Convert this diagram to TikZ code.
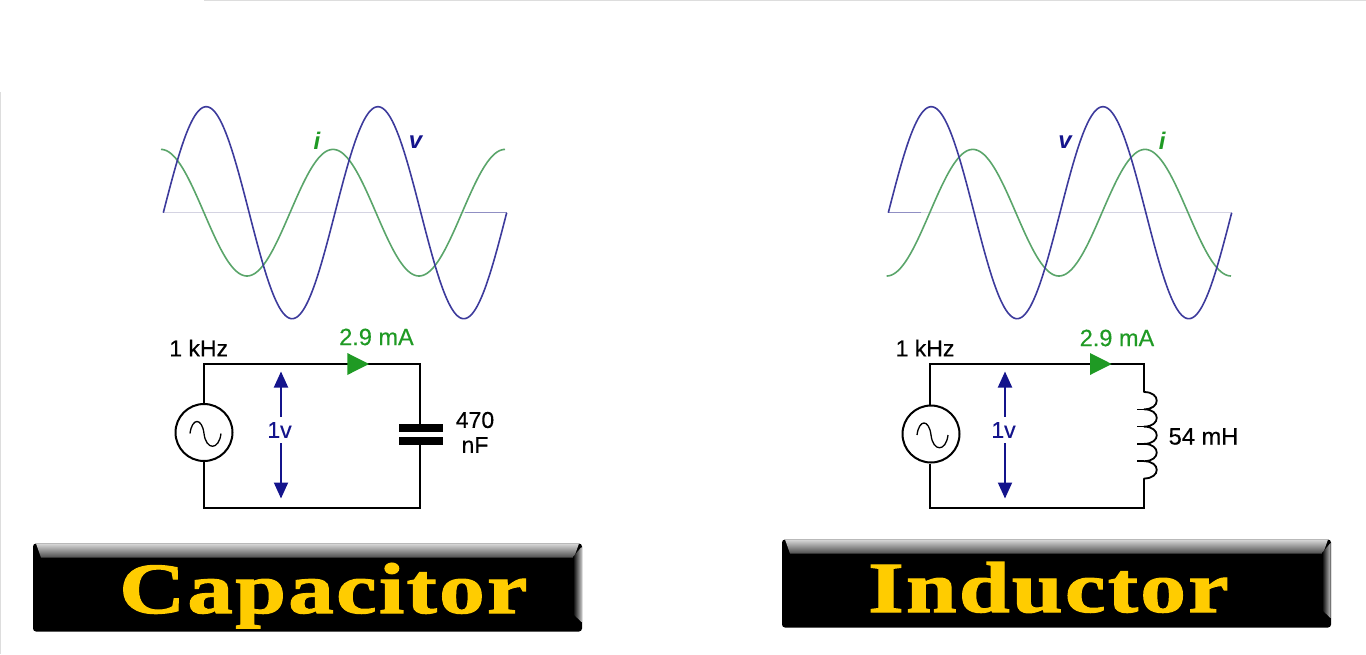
\documentclass[tikz,border=0pt]{standalone}
\usepackage{fontspec}
\setmainfont[UprightFeatures={FakeBold=0.4}]{Liberation Sans}
\newfontfamily\titlefont[LetterSpace=3,FakeStretch=1.27,FakeBold=1.6]{Liberation Serif}
\usetikzlibrary{arrows.meta}
\definecolor{vwave}{HTML}{3D3B9C}
\definecolor{iwave}{HTML}{5AA56A}
\definecolor{axisc}{HTML}{D4D3E2}
\definecolor{vblue}{HTML}{14148C}
\definecolor{igreen}{HTML}{1F9A24}
\definecolor{gold}{HTML}{FFCC00}
\definecolor{edgeg}{HTML}{DDDDDD}
\tikzset{
  vcurve/.style={vwave,line width=1.6pt,smooth,samples=220,variable=\t},
  icurve/.style={iwave,line width=1.6pt,smooth,samples=220,variable=\t},
  axisline/.style={axisc,line width=1.4pt},
  wire/.style={black,line width=2pt,line join=miter},
  sourcec/.style={circle,draw=black,line width=2pt,minimum size=57pt,inner sep=0pt,fill=white},
  sineg/.style={black,line width=1.3pt},
  lab/.style={inner sep=0pt,font=\fontsize{23}{23}\selectfont,text=black},
  greenlab/.style={lab,font=\fontsize{23.5}{23.5}\selectfont,text=igreen},
  bluelab/.style={inner sep=0pt,minimum height=26pt,minimum width=10pt,font=\fontsize{23}{23}\selectfont,text=vblue},
  wavelab/.style={inner sep=0pt,font=\fontsize{24}{24}\selectfont\bfseries\itshape},
  volt/.style={vblue,line width=2pt,-{Triangle[length=16pt,width=14pt]}},
  plate/.style={fill=black,draw=none,minimum width=44pt,minimum height=8pt,inner sep=0pt},
  blackbox/.style={fill=black,draw=none,rounded corners=3pt,minimum width=549pt,minimum height=88pt,inner sep=0pt},
  titletext/.style={anchor=base west,inner sep=0pt,text=gold,font=\fontsize{72}{72}\titlefont\bfseries},
  edgeline/.style={edgeg,line width=1.5pt}
}
\begin{document}
\begin{tikzpicture}[x=1pt,y=-1pt]
\useasboundingbox (0,0) rectangle (1366,654);
% thin edges of the frame
\draw[edgeline] (204,0.5) -- (1366,0.5);
\draw[edgeline] (0.5,92) -- (0.5,654);

% ---- capacitor waves
\draw[axisline] (163,212.7) -- (507,212.7);
\draw[vwave!45!axisc,line width=1.4pt] (465,212.7) -- (507,212.7);
\draw[icurve] plot[domain=161:505] (\t,{212.7-63.3*cos((\t-161)/172*360)});
\draw[vcurve] plot[domain=163.3:506.7] (\t,{212.7-106*sin((\t-163.3)/171.7*360)});
\node[wavelab,text=igreen] (iL) at (317,141) {i};
\node[wavelab,text=vblue] (vwL) at (415.5,142) {v};

% ---- inductor waves
\draw[axisline] (888,212.7) -- (1232,212.7);
\draw[vwave!45!axisc,line width=1.4pt] (888,212.7) -- (921,212.7);
\draw[icurve] plot[domain=886.7:1231] (\t,{212.7+63.3*cos((\t-886.7)/172.2*360)});
\draw[vcurve] plot[domain=888.3:1231.7] (\t,{212.7-106*sin((\t-888.3)/171.7*360)});
\node[wavelab,text=vblue] (vwR) at (1065,142) {v};
\node[wavelab,text=igreen] (iR) at (1162.3,141) {i};

% ---- capacitor circuit
\node[sourcec] (srcL) at (204,432.5) {};
\coordinate (tlL) at (204,364);
\coordinate (trL) at (420,364);
\coordinate (brL) at (420,508);
\coordinate (blL) at (204,508);
\node[plate] (plateA) at (421,428.3) {};
\node[plate] (plateB) at (421,441) {};
\draw[wire] (srcL.north) -- (tlL) -- (trL) -- (plateA.north -| trL);
\draw[wire] (plateB.south -| brL) -- (brL) -- (blL) -- (srcL.south);
\draw[sineg] ([shift={(-14,1)}]srcL.center) .. controls +(2,-16) and +(-2,-16) .. ++(14,0)
  .. controls +(2,17) and +(-2,17) .. ++(17,0);
\fill[igreen] (347.3,353) -- (369,364) -- (347.3,375) -- cycle;
\node[greenlab] (curL) at (376.5,337) {2.9 mA};
\node[lab] (frqL) at (198.7,348) {1 kHz};
\node[bluelab] (oneL) at (281,430) {\kern-3pt 1v};
\coordinate (vtL) at (281,371.5);
\coordinate (vbL) at (281,498.5);
\draw[volt] (oneL.north) -- (vtL);
\draw[volt] (oneL.south) -- (vbL);
\node[lab] (capA) at (475,420) {470};
\node[lab] (capB) at (475,445) {nF};

% ---- inductor circuit
\node[sourcec] (srcR) at (931,434) {};
\coordinate (tlR) at (929.5,364);
\coordinate (trR) at (1144,364);
\coordinate (brR) at (1144,508);
\coordinate (blR) at (929.5,508);
\coordinate (indT) at (1144,392);
\coordinate (indB) at (1144,478.5);
\draw[wire] (srcR.north -| tlR) -- (tlR) -- (trR) -- (indT);
\draw[wire] (indB) -- (brR) -- (blR) -- (srcR.south -| blR);
\draw[black,line width=1.8pt,line cap=round]
  (indT) .. controls +(17,0) and +(17,0) .. ++(0,17.3) coordinate (j1)
  .. controls +(17,0) and +(17,0) .. ++(0,17.3) coordinate (j2)
  .. controls +(17,0) and +(17,0) .. ++(0,17.3) coordinate (j3)
  .. controls +(17,0) and +(17,0) .. ++(0,17.3) coordinate (j4)
  .. controls +(17,0) and +(17,0) .. (indB);
\foreach \j in {j1,j2,j3,j4}{\draw[black,line width=1.6pt] (\j) -- ++(-7,0);}
\draw[sineg] ([shift={(-14,1)}]srcR.center) .. controls +(2,-16) and +(-2,-16) .. ++(14,0)
  .. controls +(2,17) and +(-2,17) .. ++(17,0);
\fill[igreen] (1090,353) -- (1111.7,364) -- (1090,375) -- cycle;
\node[greenlab] (curR) at (1117,338) {2.9 mA};
\node[lab] (frqR) at (925,348) {1 kHz};
\node[bluelab] (oneR) at (1005,430) {\kern-3pt 1v};
\coordinate (vtR) at (1005,371.5);
\coordinate (vbR) at (1005,498.5);
\draw[volt] (oneR.north) -- (vtR);
\draw[volt] (oneR.south) -- (vbR);
\node[lab,font=\fontsize{23.7}{23.7}\selectfont] (indL) at (1203.5,436.5) {54 mH};

% ---- title bars
\node[blackbox] (boxL) at (307.5,587.5) {};
\shade[top color=black!15,bottom color=black!70]
  (36,543.5) -- (579,543.5) -- (574,557.5) -- (41,557.5) -- cycle;
\shade[left color=black,right color=black!25]
  (573,557) -- (581.5,547) -- (581.5,622) -- (573,614) -- cycle;
\node[titletext] (capT) at (119,613) {Capacitor};

\node[blackbox] (boxR) at (1056.5,583.5) {};
\shade[top color=black!15,bottom color=black!70]
  (785,539.5) -- (1328,539.5) -- (1323,553.5) -- (790,553.5) -- cycle;
\shade[left color=black,right color=black!25]
  (1322,553) -- (1330.5,543) -- (1330.5,618) -- (1322,610) -- cycle;
\node[titletext] (indTitle) at (868,612) {Inductor};
\end{tikzpicture}
\end{document}
